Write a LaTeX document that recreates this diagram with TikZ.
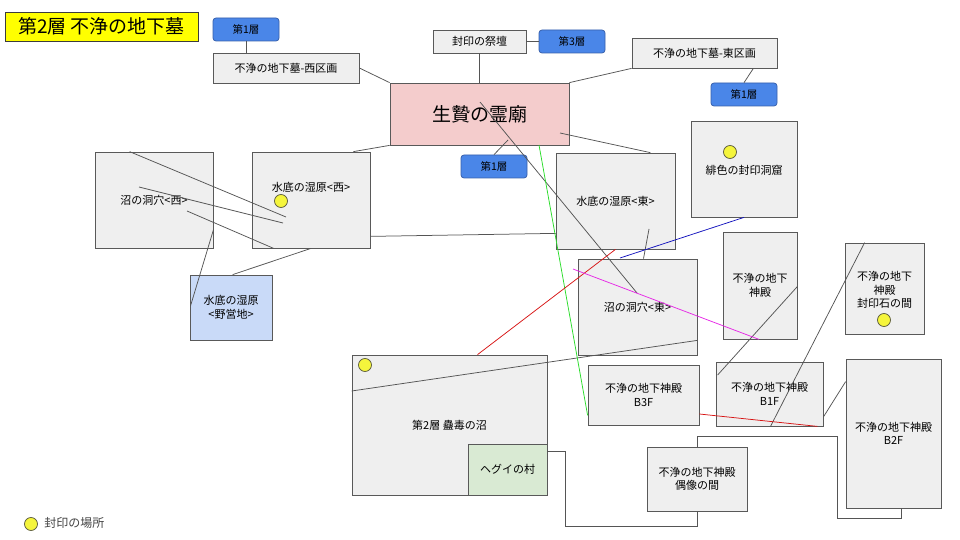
\documentclass[tikz,border=0pt]{standalone}
\usepackage{fontspec}
\setmainfont{Noto Sans CJK JP}
\usetikzlibrary{calc}

\tikzset{every picture/.style={line width=0.75pt}}
\tikzset{
room/.style={draw={rgb,255:red,89;green,89;blue,89}, fill={rgb,255:red,239;green,239;blue,239}, inner sep=0pt, align=center, font=\fontsize{11}{13.5}\selectfont},
floortag/.style={draw={rgb,255:red,55;green,95;blue,170}, fill={rgb,255:red,74;green,134;blue,232}, rounded corners=3pt, inner sep=0pt, minimum width=66pt, minimum height=23pt, font=\fontsize{10.5}{12}\selectfont},
seal/.style={circle, draw={rgb,255:red,90;green,90;blue,60}, fill={rgb,255:red,245;green,245;blue,60}, minimum size=13pt, inner sep=0pt},
link/.style={draw={rgb,255:red,85;green,85;blue,85}}
}

\begin{document}
\begin{tikzpicture}[x=1pt,y=1pt,yscale=-1,xscale=1]
\useasboundingbox (0,0) rectangle (960,540);

%Shape: Title
\node[draw={rgb,255:red,60;green,60;blue,60}, fill={rgb,255:red,255;green,255;blue,0}, minimum width=193pt, minimum height=29pt, inner sep=0pt, font=\fontsize{19}{22}\selectfont] (title) at (101.5,26.5) {第2層 不浄の地下墓};

%Shape: Rectangles (areas)
\node[room, minimum width=146pt, minimum height=30pt] (westarea) at (286,68) {不浄の地下墓-西区画};
\node[room, minimum width=93pt, minimum height=23pt] (altar) at (479.5,41.5) {封印の祭壇};
\node[room, minimum width=145pt, minimum height=30pt] (eastarea) at (704.5,53) {不浄の地下墓-東区画};
\node[room, fill={rgb,255:red,244;green,204;blue,204}, minimum width=179pt, minimum height=62pt, font=\fontsize{19}{22}\selectfont] (mausoleum) at (479.5,114) {生贄の霊廟};

%Shape: Floor tags
\node[floortag] (tagwest) at (246,29.5) {第1層};
\node[floortag] (tagaltar) at (572,41.5) {第3層};
\node[floortag] (tageast) at (744,94.5) {第1層};
\node[floortag] (tagmaus) at (494,166.5) {第1層};

%Shape: Rectangles (rooms)
\node[room, minimum width=106pt, minimum height=96pt] (scarlet) at (744,169) {};
\node[room, minimum width=118pt, minimum height=96pt] (cavewest) at (154,200) {沼の洞穴<西>};
\node[room, minimum width=118pt, minimum height=96pt] (marshwest) at (311,200) {};
\node[room, fill={rgb,255:red,201;green,218;blue,248}, minimum width=82pt, minimum height=65pt] (camp) at (231,307.5) {水底の湿原\\<野営地>};
\node[room, minimum width=119pt, minimum height=96pt] (marsheast) at (615.5,201) {水底の湿原<東>};
\node[room, minimum width=119pt, minimum height=96pt] (caveeast) at (637.5,307) {沼の洞穴<東>};
\node[room, minimum width=74pt, minimum height=107pt] (shrine) at (760,285.5) {不浄の地下\\神殿};
\node[room, minimum width=79pt, minimum height=91pt] (sealroom) at (884.5,288.5) {};
\node[room, minimum width=195pt, minimum height=140pt] (swamp) at (449.5,425) {第2層 蠱毒の沼};
\node[room, fill={rgb,255:red,217;green,234;blue,211}, minimum width=79pt, minimum height=51pt] (village) at (507.5,469.5) {ヘグイの村};
\node[room, minimum width=111pt, minimum height=60pt] (b3f) at (643.5,395) {不浄の地下神殿\\B3F};
\node[room, minimum width=107pt, minimum height=64pt] (b1f) at (769.5,394) {不浄の地下神殿\\B1F};
\node[room, minimum width=95pt, minimum height=149pt] (b2f) at (893.5,433.5) {不浄の地下神殿\\B2F};
\node[room, minimum width=100pt, minimum height=64pt] (idol) at (697,479) {不浄の地下神殿\\偶像の間};

% Text Node
\node[font=\fontsize{11}{13.5}\selectfont] (scarlet-t) at (744,170) {緋色の封印洞窟};
\node[font=\fontsize{11}{13.5}\selectfont] (marshwest-t) at (311,187) {水底の湿原<西>};
\node[font=\fontsize{11}{13.5}\selectfont, align=center] (sealroom-t) at (884.5,290) {不浄の地下\\神殿\\封印石の間};

%Shape: Circle (seals)
\node[seal] (seal1) at (730,152) {};
\node[seal] (seal2) at (281,201) {};
\node[seal] (seal3) at (884,320) {};
\node[seal] (seal4) at (365,365) {};

%Free ends
\coordinate (m1) at (508,140);
\coordinate (m2) at (480,102);
\coordinate (m3) at (560,133);
\coordinate (m4) at (539,145);
\coordinate (w1) at (286,217);
\coordinate (w2) at (139,187);
\coordinate (w3) at (283,223);
\coordinate (w4) at (187,211);
\coordinate (e1) at (649,229);
\coordinate (e2) at (620,258);
\coordinate (e3) at (573,269);
\coordinate (e4) at (637,293);

%Straight Lines
\draw[link] (tagwest.south) -- (tagwest.south |- westarea.north);
\draw[link] (westarea.east) -- (mausoleum.north west);
\draw[link] (altar.south) -- (altar.south |- mausoleum.north);
\draw[link] (altar.east) -- (tagaltar.west);
\draw[link] (mausoleum.north east) -- (eastarea.south west);
\draw[link] (tageast.north) -- ($(eastarea.south east)+(-24,0)$);
\draw[link] (tagmaus.north) -- (m1);
\draw[link] (m2) -- (e4);
\draw[link] (m3) -- ($(marsheast.north east)+(-25,0)$);
\draw[link] ($(marshwest.north east)+(-17,0)$) -- (mausoleum.south west);
\draw[link] ($(cavewest.north west)+(35,0)$) -- (w1);
\draw[link] (w2) -- (w3);
\draw[link] (w4) -- ($(marshwest.south west)+(22,0)$);
\draw[link] ($(camp.west)+(1,-2)$) -- ($(cavewest.east)+(0,30)$);
\draw[link] ($(camp.north west)+(43,0)$) -- (marshwest.south);
\draw[link] ($(marshwest.south east)+(0,-12)$) -- ($(marsheast.south west)+(0,-16)$);
\draw[link] (e1) -- ($(caveeast.north)+(6,0)$);
\draw[link] ($(swamp.west)+(0,-34)$) -- ($(caveeast.south east)+(0,-15)$);
\draw[link] ($(shrine.east)+(0,1)$) -- ($(b1f.west)+(2,-19)$);
\draw[link] ($(sealroom.north west)+(20,0)$) -- ($(b1f.south)+(1,0)$);
\draw[link] ($(b1f.east)+(0,23)$) -- ($(b2f.north west)+(0,23)$);

%Coloured Lines
\draw[color={rgb,255:red,40;green,220;blue,40}] (m4) -- ($(b3f.south west)+(0,-10)$);
\draw[color={rgb,255:red,20;green,20;blue,190}] (scarlet.south) -- (e2);
\draw[color={rgb,255:red,215;green,20;blue,20}] (marsheast.south) -- ($(swamp.north)+(28,0)$);
\draw[color={rgb,255:red,230;green,40;blue,230}] (e3) -- ($(shrine.south)+(-1,0)$);
\draw[color={rgb,255:red,215;green,20;blue,20}] ($(b3f.east)+(0,19)$) -- ($(b1f.south east)+(-6,0)$);

%Elbow Lines
\draw[link] ($(village.north east)+(0,8)$) -- ++(18,0) |- ($(idol.south)+(0,15)$) -- (idol.south);
\draw[link] (idol.north) -- ++(0,-10) -| ($(b2f.south west)+(-8,10)$) -| ($(b2f.south)+(8,0)$);

% Legend
\node[seal] (legend) at (31,524) {};
\node[anchor=west, inner sep=0pt, text={rgb,255:red,67;green,67;blue,67}, font=\fontsize{12}{14}\selectfont] (legend-t) at (44,523) {封印の場所};

\end{tikzpicture}
\end{document}
